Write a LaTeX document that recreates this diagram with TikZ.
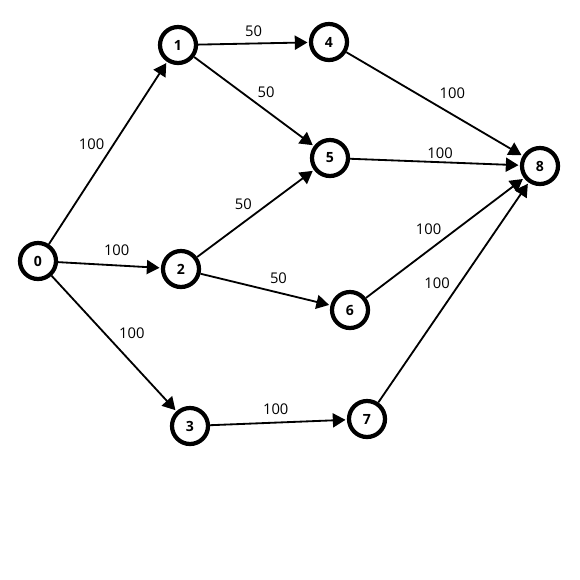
\documentclass[tikz,border=0pt]{standalone}
\usepackage{fontspec}
\setmainfont{Open Sans}
\usetikzlibrary{arrows.meta}

\begin{document}
\begin{tikzpicture}[x=0.025cm,y=-0.025cm,>={Triangle[length=9pt,width=10pt]},
  vtx/.style={circle,draw=black,line width=3pt,minimum size=0.9cm,inner sep=0pt,
    font=\fontsize{10}{12}\selectfont\bfseries},
  edge/.style={->,line width=1.3pt,shorten >=1pt},
  lbl/.style={font=\fontsize{10.5}{12}\selectfont,inner sep=2pt},
]
\useasboundingbox (0,0) rectangle (580,580);

% vertices
\node[vtx] (n0) at (38,261) {0};
\node[vtx] (n1) at (178,45) {1};
\node[vtx] (n2) at (181,269) {2};
\node[vtx] (n3) at (190,426) {3};
\node[vtx] (n4) at (329,42) {4};
\node[vtx] (n5) at (330,158) {5};
\node[vtx] (n6) at (350,310) {6};
\node[vtx] (n7) at (367,419) {7};
\node[vtx] (n8) at (540,166) {8};

% weighted edges
\draw[edge] (n0) -- node[lbl,pos=0.5,above left] {100} (n1);
\draw[edge] (n0) -- node[lbl,pos=0.57,above=4pt] {100} (n2);
\draw[edge] (n0) -- node[lbl,pos=0.5,above right=1pt] {100} (n3);
\draw[edge] (n1) -- node[lbl,pos=0.5,above=2pt] {50} (n4);
\draw[edge] (n1) -- node[lbl,pos=0.5,above right] {50} (n5);
\draw[edge] (n2) -- node[lbl,pos=0.5,above left] {50} (n5);
\draw[edge] (n2) -- node[lbl,pos=0.6,above=4pt] {50} (n6);
\draw[edge] (n3) -- node[lbl,pos=0.48,above=3pt] {100} (n7);
\draw[edge] (n4) -- node[lbl,pos=0.5,above right=1pt] {100} (n8);
\draw[edge] (n5) -- node[lbl,pos=0.53,above] {100} (n8);
\draw[edge] (n6) -- node[lbl,pos=0.5,above left] {100} (n8);
\draw[edge] (n7) -- node[lbl,pos=0.5,above left] {100} (n8);

\end{tikzpicture}
\end{document}
